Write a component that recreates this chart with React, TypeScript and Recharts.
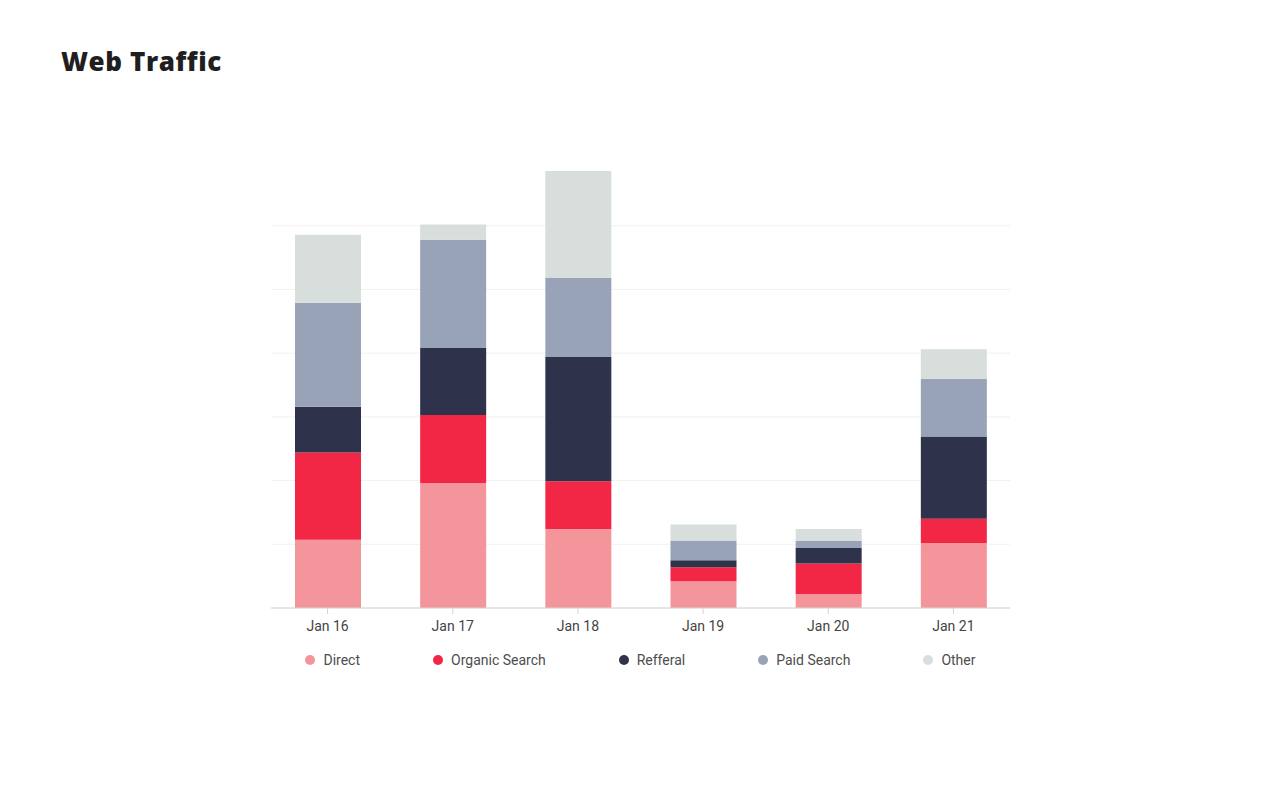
import React from "react";
import { BarChart, Bar, XAxis, YAxis, CartesianGrid, Legend } from "recharts";

const days = ["Jan 16", "Jan 17", "Jan 18", "Jan 19", "Jan 20", "Jan 21"];
const direct = [107, 196, 124, 42, 22, 102];
const organic = [137, 107, 75, 22, 48, 38];
const referral = [72, 105, 195, 11, 24, 129];
const paid = [163, 170, 124, 31, 11, 91];
const other = [107, 24, 168, 25, 19, 46];
const yTicks = [0, 100, 200, 300, 400, 500, 600];

const series = [
  { key: "direct", name: "Direct", color: "#f4959b" },
  { key: "organic", name: "Organic Search", color: "#f22746" },
  { key: "referral", name: "Refferal", color: "#2f324b" },
  { key: "paid", name: "Paid Search", color: "#98a3b7" },
  { key: "other", name: "Other", color: "#d7dedc" },
];

const data = days.map((day, i) => ({
  day,
  direct: direct[i],
  organic: organic[i],
  referral: referral[i],
  paid: paid[i],
  other: other[i],
}));

const LegendRow = () => (
  <div style={{ display: "flex", justifyContent: "center", gap: 73, height: 24, alignItems: "center" }}>
    {series.map((s) => (
      <div key={s.key} style={{ display: "flex", alignItems: "center" }}>
        <span style={{ width: 10, height: 10, borderRadius: "50%", background: s.color, marginRight: 8, display: "inline-block" }} />
        <span style={{ fontSize: 14, color: "#4d4d4d", fontFamily: "Roboto, sans-serif", lineHeight: "24px" }}>{s.name}</span>
      </div>
    ))}
  </div>
);

export default function App() {
  return (
    <div style={{ position: "absolute", left: 0, top: 0, width: 1280, height: 800, background: "#fff" }}>
      <div
        style={{
          position: "absolute", left: 61, top: 45,
          fontFamily: "'Open Sans', sans-serif", fontWeight: 800, fontSize: 26,
          letterSpacing: 0.6, lineHeight: "32px", color: "#1f1f1f",
        }}
      >
        Web Traffic
      </div>
      <div style={{ position: "absolute", left: 0, top: 0 }}>
        <BarChart width={1280} height={800} data={data} margin={{ top: 162, right: 270, left: 271, bottom: 128 }}>
          <CartesianGrid vertical={false} stroke="#f1f1f1" horizontalValues={yTicks} />
          <XAxis
            dataKey="day"
            height={40}
            padding={{ left: -6, right: -6 }}
            axisLine={{ stroke: "#d4d4d4" }}
            tickLine={{ stroke: "#d4d4d4" }}
            tickSize={6}
            tickMargin={7}
            tick={{ fontSize: 14, fill: "#444", fontFamily: "Roboto, sans-serif" }}
          />
          <YAxis hide domain={[0, 700]} ticks={yTicks} />
          <Legend verticalAlign="bottom" content={<LegendRow />} />
          {series.map((s) => (
            <Bar key={s.key} dataKey={s.key} name={s.name} stackId="a" fill={s.color} barSize={66} isAnimationActive={false} />
          ))}
        </BarChart>
      </div>
    </div>
  );
}
